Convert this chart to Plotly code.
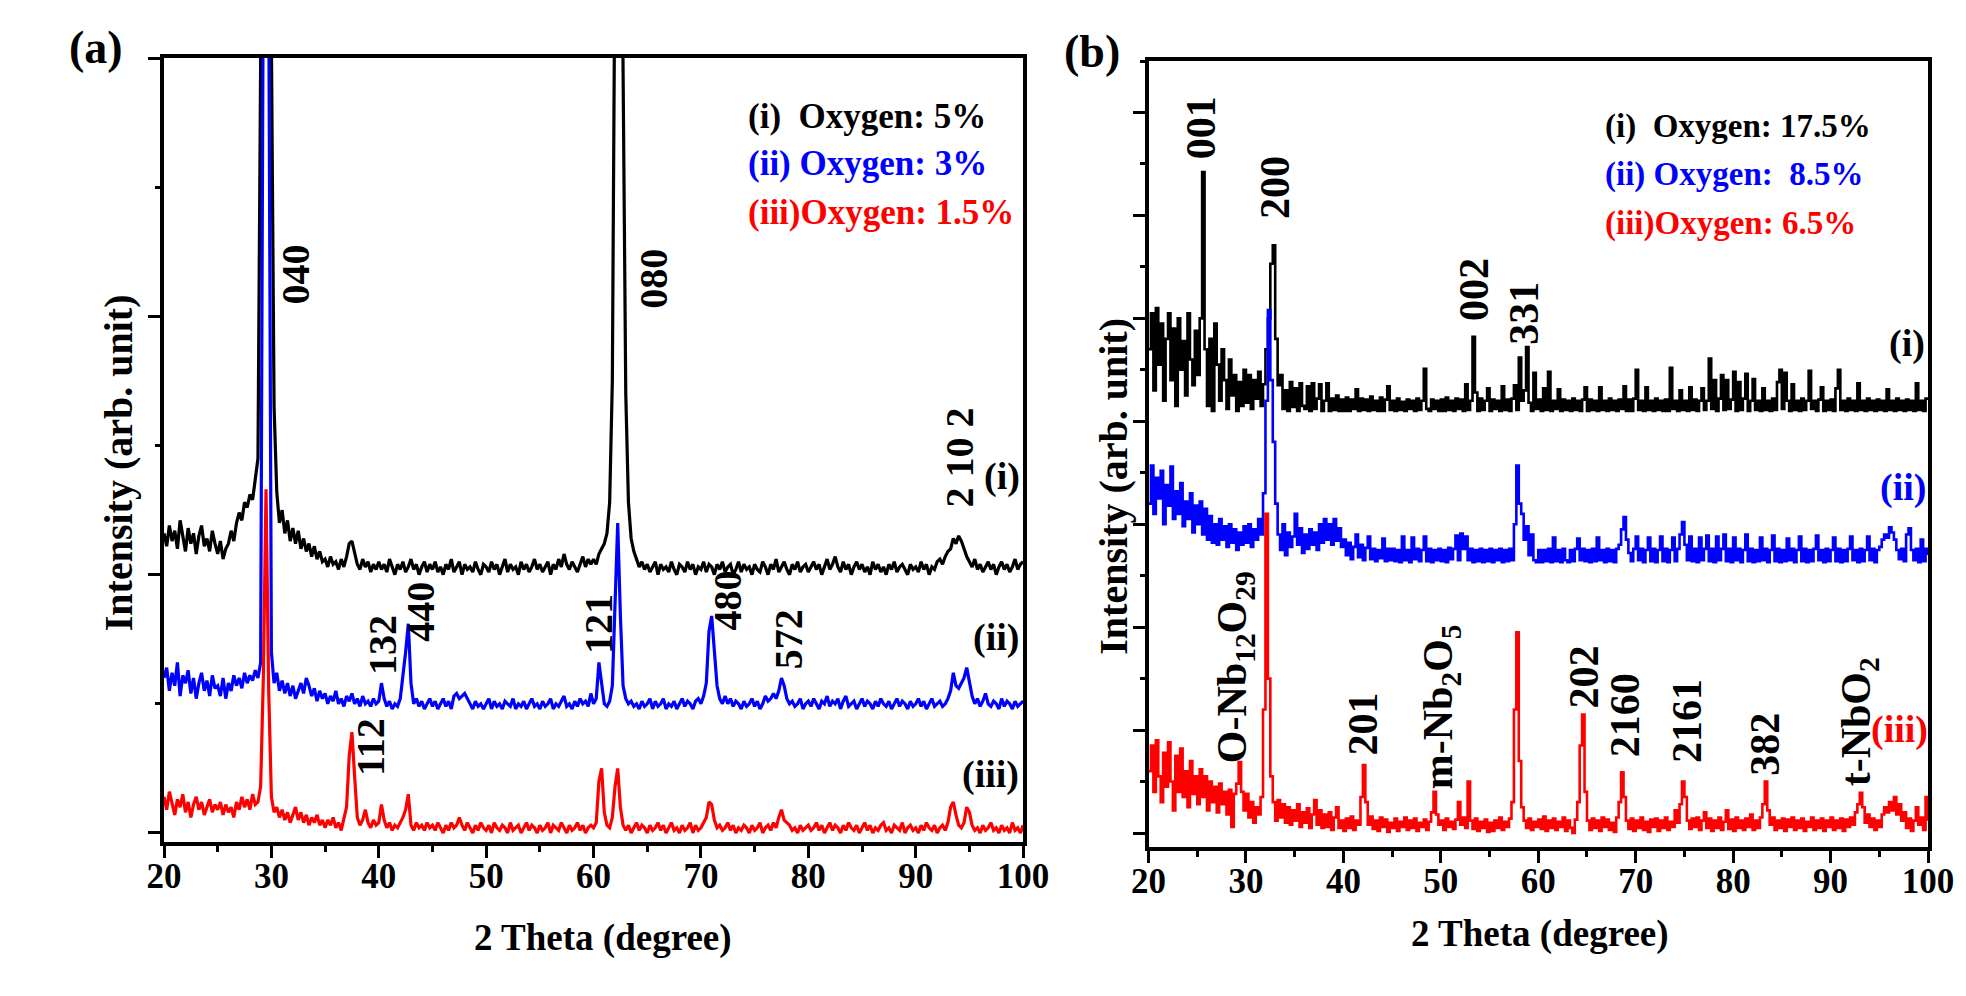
import plotly.graph_objects as go

# ---------------- data ----------------
X_START, X_STEP, N_PTS = 20.0, 0.25, 321
two_theta = [X_START + X_STEP * i for i in range(N_PTS)]

# Panel (a): intensities (arb. unit x100)
a_i_oxy5 = [
    116,111,119,113,117,110,121,114,109,118,112,116,108,115,119,111,114,109,117,112,
    108,113,106,110,112,117,113,120,124,121,128,126,131,129,136,145,300,460,530,450,
    290,165,132,120,125,116,121,113,118,112,117,110,114,109,112,107,111,106,109,105,
    106,103,107,104,105,102,106,103,107,112,113,108,104,102,106,103,105,101,104,102,
    105,102,104,101,106,103,100,104,102,105,101,103,106,102,104,100,103,105,101,104,
    102,105,101,103,100,104,102,106,101,103,105,100,104,102,103,101,105,102,100,104,
    103,101,105,102,104,100,103,106,101,104,102,103,100,105,102,104,101,103,106,102,
    104,101,103,105,100,104,102,106,103,108,104,102,105,103,101,104,107,103,106,104,
    106,104,108,110,112,116,128,175,300,520,420,290,170,128,114,109,106,103,105,102,
    104,101,103,105,100,104,102,103,101,105,102,100,104,103,101,105,102,104,100,103,
    102,105,101,104,103,100,104,102,105,101,103,104,100,102,105,101,104,102,103,100,
    104,102,101,105,103,100,104,102,106,101,103,105,102,100,104,102,105,101,103,104,
    101,103,105,102,104,100,103,106,102,104,107,103,101,105,102,104,100,103,105,102,
    104,101,103,100,105,102,104,101,103,100,104,102,105,101,103,104,102,100,104,102,
    103,101,105,102,104,100,103,102,105,106,104,107,109,110,114,112,115,113,110,107,
    105,103,106,102,104,101,103,105,102,104,100,103,105,102,104,101,103,106,102,104,
    105]
a_ii_oxy3 = [
    60,64,55,62,57,66,53,61,58,63,54,60,52,58,62,55,59,53,61,56,
    57,53,60,52,58,55,61,57,60,56,62,58,61,59,63,60,66,330,620,330,
    70,58,62,55,59,54,58,53,57,52,55,58,54,60,57,53,56,51,55,52,
    54,50,53,51,55,50,52,49,53,51,54,50,52,49,53,50,51,49,52,50,
    51,58,52,49,51,48,50,49,52,60,70,81,58,50,52,49,51,48,50,52,
    49,51,48,50,52,49,51,48,53,54,52,53,54,52,50,48,51,49,50,48,
    50,52,48,51,49,50,48,51,50,49,52,48,50,49,51,48,50,52,49,50,
    48,51,49,50,52,48,50,49,51,53,49,50,48,51,49,52,50,51,49,54,
    50,52,66,58,50,49,51,57,88,120,84,57,52,50,51,49,50,48,51,49,
    50,52,48,51,49,50,52,48,50,49,51,48,50,52,49,51,50,48,51,52,
    50,53,58,78,84,70,57,52,50,53,50,52,49,51,50,48,51,49,50,52,
    49,51,48,50,53,51,52,54,52,55,60,57,52,50,51,49,50,52,48,50,
    51,49,52,50,48,51,50,53,49,51,50,52,48,51,53,49,50,51,48,50,
    52,49,51,50,48,51,49,52,50,49,51,48,50,52,49,51,50,48,51,49,
    50,52,49,51,48,50,52,49,50,51,49,50,52,55,62,57,56,58,60,64,
    59,53,50,52,49,51,54,50,49,51,50,48,52,49,51,50,48,51,49,50,
    51]
a_iii_oxy15 = [
    14,9,16,11,7,13,10,15,8,12,6,11,14,9,12,7,10,13,8,11,
    9,12,7,11,8,10,6,12,9,14,10,13,9,15,11,12,18,60,133,55,
    14,8,10,6,9,5,8,4,7,10,5,8,4,7,3,6,4,7,3,5,
    2,5,3,6,2,4,1,5,10,30,39,22,6,3,5,9,4,2,5,3,
    4,11,5,2,4,1,3,2,4,6,9,15,3,1,4,2,3,1,4,2,
    3,1,4,2,0,3,1,4,2,3,6,3,1,4,2,0,3,1,4,2,
    1,3,0,4,2,1,3,2,0,4,1,2,3,0,2,4,1,3,2,0,
    3,1,2,4,0,3,2,1,4,2,0,3,1,2,4,1,3,0,2,3,
    2,4,20,25,8,3,2,6,18,25,10,3,1,3,0,2,4,1,3,2,
    0,3,1,2,4,1,3,0,2,4,1,2,0,3,1,2,4,0,3,1,
    2,4,6,12,11,5,2,3,1,2,4,1,3,0,2,1,3,2,0,3,
    1,2,4,0,2,3,1,4,2,6,9,5,4,3,1,2,0,3,1,2,
    3,1,2,4,1,3,0,2,4,1,3,2,0,3,1,4,2,1,3,0,
    2,4,1,3,0,2,1,3,4,1,2,0,3,2,1,4,0,2,3,1,
    2,0,3,1,4,2,1,3,0,2,3,1,4,10,12,7,3,2,4,10,
    8,3,1,2,0,3,1,2,4,1,2,0,3,1,2,0,4,1,2,0,
    3]

# Panel (b): intensities (arb. unit x100)
b_i_oxy175 = [
    470,505,430,510,455,495,420,480,505,440,490,415,500,450,478,425,505,460,435,488,
    445,500,642,470,415,480,410,495,455,420,470,440,412,460,425,445,410,438,415,450,
    418,445,412,440,422,448,415,436,470,500,553,571,480,435,445,412,430,410,438,414,
    432,410,437,415,412,434,410,437,412,422,436,410,420,437,410,422,411,425,410,421,
    410,423,410,421,412,431,410,422,411,421,410,424,411,420,410,423,410,421,434,411,
    420,410,422,411,419,410,421,412,420,410,422,411,420,451,412,410,421,412,420,410,
    421,410,423,411,420,410,422,412,421,410,436,411,420,482,428,410,422,411,420,432,
    410,421,412,420,410,434,411,421,410,422,435,411,462,420,430,472,418,410,447,412,
    421,410,432,411,448,410,420,412,431,410,421,411,420,410,422,411,420,410,421,433,
    410,421,411,420,410,433,411,420,410,422,411,420,410,421,412,434,410,421,410,422,
    450,411,420,410,433,411,420,410,422,411,420,410,421,410,452,412,420,410,430,411,
    420,410,433,411,421,410,420,432,411,420,461,412,440,410,422,445,411,440,412,421,
    448,410,438,411,422,446,410,420,441,411,420,410,432,411,420,410,422,411,438,450,
    412,447,420,410,436,411,420,410,422,411,420,449,412,420,410,421,433,410,420,411,
    421,410,432,450,411,420,410,422,411,420,410,437,411,420,410,422,411,420,410,421,
    411,420,410,431,411,420,410,422,411,420,410,421,411,420,410,437,411,420,410,422,
    421]
b_ii_oxy85 = [
    320,357,310,345,325,352,300,338,318,356,305,332,310,340,298,322,305,330,292,318,
    300,322,290,315,285,308,282,300,280,305,285,298,278,300,282,295,275,292,280,298,
    282,300,278,295,285,305,290,330,420,508,440,380,320,290,275,300,270,292,278,288,
    310,280,296,272,290,276,295,280,292,275,300,282,305,285,300,280,305,284,296,278,
    285,270,282,266,278,290,268,280,265,277,288,266,276,264,275,267,286,264,276,265,
    276,264,275,263,288,265,275,263,287,266,276,264,275,288,264,276,263,275,265,276,
    264,275,263,277,266,276,289,265,291,276,288,265,276,263,275,264,276,263,275,264,
    276,263,275,265,276,263,275,264,276,265,300,357,320,310,285,298,270,290,265,263,
    275,263,275,264,276,263,287,264,275,263,276,265,263,275,264,276,286,265,276,264,
    275,263,276,264,287,265,275,263,276,264,275,263,276,280,295,307,285,272,264,276,
    288,265,276,263,275,287,264,276,263,275,288,264,276,263,275,287,264,276,290,302,
    280,265,288,264,276,263,287,265,276,289,264,276,263,288,265,276,290,264,276,263,
    287,265,276,263,275,290,264,276,263,275,264,287,265,276,263,275,289,264,276,263,
    275,264,286,265,276,263,275,288,264,276,263,275,264,276,289,265,275,263,276,264,
    275,287,264,276,263,275,264,276,288,265,275,263,276,264,275,288,265,276,263,275,
    278,285,290,287,297,292,285,275,266,276,264,290,296,275,265,276,263,285,264,276,
    270]
b_iii_oxy65 = [
    60,85,40,90,55,30,78,45,88,50,22,75,40,82,35,60,25,70,38,55,
    28,62,35,55,22,50,30,45,20,48,28,40,18,42,6,38,48,69,40,22,
    38,15,30,10,25,18,35,120,310,150,55,30,12,32,15,28,10,25,8,22,
    12,28,6,20,10,24,5,18,32,8,22,5,18,6,20,3,15,25,5,12,
    2,14,5,16,3,12,8,35,66,30,8,16,4,12,2,15,6,13,1,10,
    5,14,2,11,6,15,3,12,5,14,2,10,6,13,3,11,20,40,18,8,
    12,3,14,6,11,4,13,30,8,15,5,50,12,4,14,2,11,5,13,1,
    10,2,12,5,15,3,11,6,14,30,120,195,70,25,12,5,14,3,11,6,
    13,4,16,2,12,5,14,3,11,6,15,2,12,5,0,13,30,85,115,40,
    12,3,14,5,12,2,15,6,13,3,10,1,15,30,59,35,12,4,14,2,
    12,5,15,3,11,1,13,6,14,2,12,5,15,3,11,6,22,10,28,50,
    35,12,4,14,6,15,3,12,20,5,14,2,12,5,15,3,11,22,4,13,
    2,15,5,12,3,14,6,18,3,12,5,15,28,50,22,8,15,3,12,5,
    14,2,13,6,15,3,12,5,14,2,11,6,15,3,12,5,14,2,12,6,
    15,3,12,5,14,2,13,6,15,8,20,28,39,25,10,18,6,14,3,12,
    6,18,25,20,30,22,35,18,28,12,20,5,14,2,12,25,8,15,3,35,
    12]

x_ticks = [20, 30, 40, 50, 60, 70, 80, 90, 100]
legend_a = ["(i)\u00a0 Oxygen: 5%", "(ii) Oxygen: 3%", "(iii)Oxygen: 1.5%"]
legend_b = ["(i)\u00a0 Oxygen: 17.5%", "(ii) Oxygen:\u00a0 8.5%", "(iii)Oxygen: 6.5%"]
peaks_a = ["040", "080", "2 10 2", "132", "440", "121", "480", "572", "112"]
peaks_b = ["001", "200", "002", "331", "O-Nb<sub>12</sub>O<sub>29</sub>", "201",
           "m-Nb<sub>2</sub>O<sub>5</sub>", "202", "2160", "2161", "382", "t-NbO<sub>2</sub>"]

# ---------------- layout helpers ----------------
W, H = 1966, 996
ML, MR, MT, MB = 164, 30, 58, 149
PW, PH = W - ML - MR, H - MT - MB
FONT = "Liberation Serif, Times New Roman, serif"
BLACK, BLUE, RED = "#000000", "#0000FF", "#FF0000"


def px(x):
    return (x - ML) / PW


def py(y):
    return (H - MB - y) / PH


fig = go.Figure()
for ys, col in [(a_i_oxy5, BLACK), (a_ii_oxy3, BLUE), (a_iii_oxy15, RED)]:
    fig.add_trace(go.Scatter(x=two_theta, y=ys, mode="lines", xaxis="x", yaxis="y",
                             line=dict(color=col, width=3.2), showlegend=False, hoverinfo="skip"))
for ys, col in [(b_i_oxy175, BLACK), (b_ii_oxy85, BLUE), (b_iii_oxy65, RED)]:
    fig.add_trace(go.Scatter(x=two_theta, y=ys, mode="lines", xaxis="x2", yaxis="y2",
                             line=dict(color=col, width=2.6, shape="hv"), showlegend=False,
                             hoverinfo="skip"))

tickfont = dict(family=FONT, size=35, color="black", weight="bold")
xcommon = dict(range=[20, 100], tickmode="array", tickvals=x_ticks,
               ticktext=[str(v) for v in x_ticks], ticks="outside", ticklen=12, tickwidth=3,
               tickcolor="black", ticklabelstandoff=-12,
               minor=dict(dtick=5, tick0=20, ticks="outside", ticklen=6,
                          tickwidth=3, tickcolor="black"),
               showline=True, linewidth=4, linecolor="black", mirror=True, showgrid=False,
               zeroline=False, tickfont=tickfont)
ycommon = dict(tick0=0, dtick=100, ticks="outside", ticklen=12, tickwidth=3, tickcolor="black",
               minor=dict(dtick=50, ticks="outside", ticklen=5, tickwidth=3, tickcolor="black"),
               showticklabels=False, showline=True, linewidth=4, linecolor="black", mirror=True,
               showgrid=False, zeroline=False)

fig.update_layout(
    width=W, height=H, margin=dict(l=ML, r=MR, t=MT, b=MB),
    plot_bgcolor="white", paper_bgcolor="white",
    xaxis=dict(domain=[0, (1027 - ML) / PW], anchor="y", **xcommon),
    yaxis=dict(domain=[py(842), 1], anchor="x", range=[-3.5, 300], **ycommon),
    xaxis2=dict(domain=[px(1153), 1], anchor="y2", **xcommon),
    yaxis2=dict(domain=[0, py(61)], anchor="x2", range=[-13.6, 750], **ycommon),
)

ann = []


def add(text, x, y, size, color=BLACK, angle=0, xanchor="center"):
    ann.append(dict(text="<b>" + text + "</b>", x=px(x), y=py(y), xref="paper", yref="paper",
                    showarrow=False, xanchor=xanchor, yanchor="middle", textangle=angle,
                    font=dict(family=FONT, size=size, color=color)))


# panel letters
add("(a)", 96, 48, 46)
add("(b)", 1096, 51, 46)
# axis titles
add("2 Theta (degree)", 605, 938, 37)
add("2 Theta (degree)", 1546, 934, 37)
add("Intensity (arb. unit)", 118, 463, 40, angle=-90)
add("Intensity (arb. unit)", 1117, 486, 40, angle=-90)
# legends
for t, yy, c in zip(legend_a, [116, 164, 213], [BLACK, BLUE, RED]):
    add(t, 749, yy, 35, color=c, xanchor="left")
for t, yy, c in zip(legend_b, [126, 174, 224], [BLACK, BLUE, RED]):
    add(t, 1610, yy, 33, color=c, xanchor="left")
# peak labels panel (a)
pos_a = [(296, 274), (655, 279), (963, 457), (383, 645), (421, 612), (600, 624),
         (730, 600), (791, 639), (371, 747)]
for t, (xx, yy) in zip(peaks_a, pos_a):
    add(t, xx, yy, 40, angle=-90)
# series tags panel (a)
add("(i)", 1006, 476, 38)
add("(ii)", 1000, 637, 38)
add("(iii)", 994, 774, 38)
# peak labels panel (b)
pos_b = [(1206, 128), (1280, 187), (1480, 290), (1530, 313), (1240, 667), (1368, 724),
         (1447, 707), (1590, 677), (1632, 715), (1694, 721), (1772, 744), (1867, 722)]
for t, (xx, yy) in zip(peaks_b, pos_b):
    add(t, xx, yy, 42, angle=-90)
# series tags panel (b)
add("(i)", 1915, 343, 38)
add("(ii)", 1911, 487, 38, color=BLUE)
add("(iii)", 1907, 729, 38, color=RED)

fig.update_layout(annotations=ann)
fig.write_html("out.html")
